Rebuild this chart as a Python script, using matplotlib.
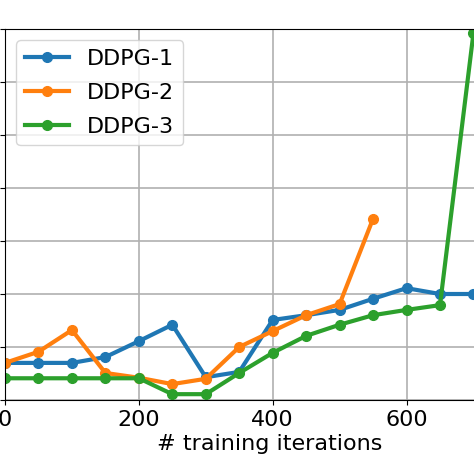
import numpy as np
import matplotlib.pyplot as plt

iterations = [0, 50, 100, 150, 200, 250, 300, 350, 400, 450, 500, 550, 600, 650, 700]
ddpg1 = [0.70, 0.70, 0.70, 0.81, 1.11, 1.42, 0.43, 0.53, 1.51, 1.60, 1.70, 1.91, 2.11, 2.00, 2.00]
ddpg2 = [0.70, 0.91, 1.32, 0.51, 0.42, 0.30, 0.40, 1.00, 1.30, 1.60, 1.81, 3.42]
ddpg3 = [0.41, 0.41, 0.41, 0.41, 0.41, 0.11, 0.11, 0.51, 0.89, 1.21, 1.42, 1.60, 1.70, 1.79, 6.92]

plt.rcParams['font.size'] = 16

fig = plt.figure(figsize=(4.74, 4.74), dpi=100)
# the reference is a crop, so the axes run past the right edge
ax = fig.add_axes([5/474, 74/474, 530/474, 371/474])

ax.plot(iterations, ddpg1, marker='o', lw=3, ms=7, label="DDPG-1")
ax.plot(iterations[:len(ddpg2)], ddpg2, marker='o', lw=3, ms=7, label="DDPG-2")
ax.plot(iterations, ddpg3, marker='o', lw=3, ms=7, label="DDPG-3")

ax.set_xlim(0, 792)
ax.set_ylim(0, 7)
ax.set_xticks([0, 200, 400, 600])
ax.set_yticks(np.arange(0, 8, 1))
ax.grid(True, color='#b0b0b0', lw=1.2)
ax.set_xlabel("# training iterations", labelpad=3)
ax.legend(loc='upper left', labelspacing=0.62)

fig.savefig("out.png", dpi=100)
